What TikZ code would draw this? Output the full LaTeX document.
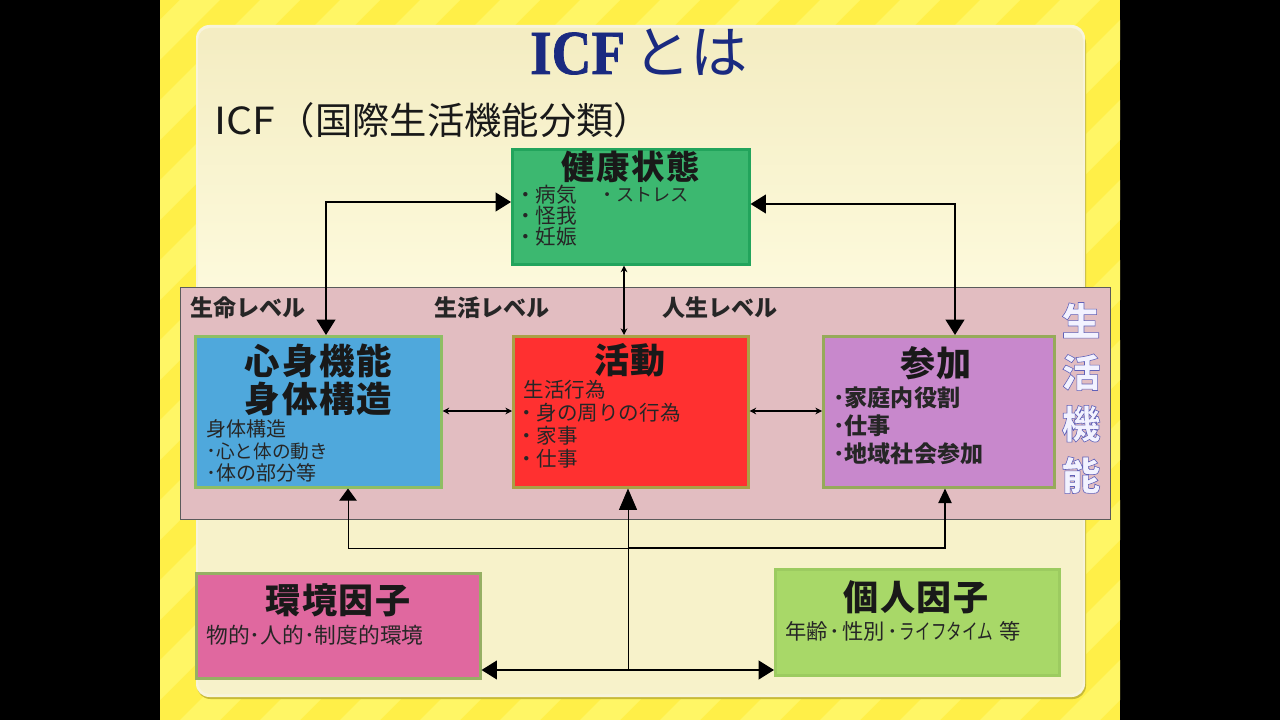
\documentclass[tikz,border=0pt]{standalone}
\usepackage{fontspec}
\usepackage{graphicx}
\usetikzlibrary{arrows.meta,calc,patterns.meta}
\setmainfont{Noto Sans CJK JP}
\newfontfamily\titlefont[BoldFeatures={FakeBold=1.2}]{Liberation Serif}
\newcommand{\fs}[1]{\fontsize{#1}{#1}\selectfont}
\newcommand{\fsl}[2]{\fontsize{#1}{#2}\selectfont}
\newcommand{\spread}{\addfontfeature{LetterSpace=5}}
\definecolor{stripeA}{HTML}{FFEF48}
\definecolor{stripeB}{HTML}{FFF665}
\definecolor{navy}{HTML}{1A2A80}
\definecolor{cardTop}{HTML}{F4EDC3}
\definecolor{cardMid}{HTML}{FDFADC}
\definecolor{cardBot}{HTML}{F7F2CA}
\definecolor{band}{HTML}{EDC4C9}
\definecolor{healthFill}{HTML}{3CB870}
\definecolor{healthEdge}{HTML}{22A45C}
\definecolor{blueFill}{HTML}{4FA8DC}
\definecolor{blueEdge}{HTML}{8EBE64}
\definecolor{redFill}{HTML}{FF3030}
\definecolor{redEdge}{HTML}{AAA046}
\definecolor{purpleFill}{HTML}{C888CC}
\definecolor{purpleEdge}{HTML}{96AA5A}
\definecolor{envFill}{HTML}{E0689F}
\definecolor{envEdge}{HTML}{96AF64}
\definecolor{indFill}{HTML}{A8D868}
\definecolor{indEdge}{HTML}{9CCB60}
\definecolor{vertFill}{HTML}{F2F2FF}
\tikzset{
  x=0.75pt,y=-0.75pt,
  boxnode/.style={draw=#1,line width=1.9pt,inner sep=0,anchor=north west},
  headtext/.style={inner sep=0,font=\bfseries\fs{26.3}\spread,text=black!90},
  listtext/.style={inner sep=0,anchor=north west,align=left,font=\fsl{15.5}{15.5},text=black!85},
  boldlist/.style={inner sep=0,anchor=north west,align=left,font=\bfseries\fsl{17.3}{20.8},text=black!85},
  leveltext/.style={inner sep=0,font=\bfseries\fs{17.3},text=black!85},
  bigarrow/.style={line width=1.4pt,{Triangle[length=11.5pt,width=14pt]}-{Triangle[length=11.5pt,width=14pt]}},
  smallarrow/.style={line width=0.8pt,{Stealth[length=5pt,width=5pt]}-{Stealth[length=5pt,width=5pt]}},
  branchline/.style={line width=0.75pt},
}
\begin{document}
\begin{tikzpicture}
\useasboundingbox (0,0) rectangle (1280,720);
\fill[black] (0,0) rectangle (1280,720);
\begin{scope}
  \clip (160,0) rectangle (1120,720);
  \fill[stripeA] (160,0) rectangle (1120,720);
  \foreach \s in {-60,20,...,1900} {
    \fill[stripeB] (\s,0) -- ({\s+40},0) -- ({\s+40-720},720) -- ({\s-720},720) -- cycle;
  }
\end{scope}
\fill[black!22!stripeA,rounded corners=10pt] (197,30) rectangle (1086,699);
\fill[white!40!cardTop,rounded corners=10pt] (196,25) rectangle (1085,697);
\fill[cardTop,rounded corners=9pt] (198,28) rectangle (1083,60);
\shade[top color=cardTop,bottom color=cardMid] (198,40) rectangle (1083,290);
\shade[top color=cardMid,bottom color=cardBot] (198,290) rectangle (1083,520);
\fill[cardBot,rounded corners=9pt] (198,510) rectangle (1083,694);

\node[inner sep=0,anchor=base,text=navy] (title) at (639,74)
  {\scalebox{.88}[1]{\titlefont\bfseries\fs{47}ICF}\hspace{6pt}\fs{43}とは};
\node[inner sep=0,anchor=base west,text=black!90] (subtitle) at (214,135) {\fs{28}\scalebox{1.1}[1]{ICF}\hspace{2pt}（国際生活機能分類）};

\fill[band,draw=black!65,line width=0.6pt] (180,287) rectangle (1110,519);
\fill[pattern={Dots[distance=1.5pt,radius=0.33pt]},pattern color=black!55] (180,287) rectangle (1110,519);

\node[boxnode=healthEdge,fill=healthFill,minimum width=177.75pt,minimum height=86.25pt] (health) at (511,148) {};
\node[boxnode=blueEdge,fill=blueFill,minimum width=184.5pt,minimum height=113.25pt] (blue) at (194,335) {};
\node[boxnode=redEdge,fill=redFill,minimum width=176.25pt,minimum height=113.25pt] (red) at (512,335) {};
\node[boxnode=purpleEdge,fill=purpleFill,minimum width=173.25pt,minimum height=113.25pt] (purple) at (822,335) {};
\node[boxnode=envEdge,fill=envFill,minimum width=213pt,minimum height=78.75pt] (env) at (195,572) {};
\node[boxnode=indEdge,fill=indFill,minimum width=213pt,minimum height=79.5pt] (ind) at (774,568) {};

\node[headtext,font=\bfseries\fs{25}\spread] (healthT) at (631,167) {健康状態};
\node[listtext] (healthL) at (515,185) {・病気\\・怪我\\・妊娠};
\node[listtext,font=\fs{13.6}] (healthS) at (598,187) {・ストレス};

\node[leveltext] (lvA) at (248,308) {生命レベル};
\node[leveltext] (lvB) at (492,308) {生活レベル};
\node[leveltext] (lvC) at (720,308) {人生レベル};

\node[headtext,align=center,font=\bfseries\fsl{26.6}{28.5}\spread] (blueT) at (318.5,380) {心身機能\\身体構造};
\node[listtext,font=\fsl{15}{16.5}] (blueL) at (206,419) {身体構造\\･{\fsl{14}{16.5}心と体の動き}\\･体の部分等};

\node[headtext] (redT) at (630,360) {活動};
\node[listtext,font=\fsl{15.4}{17.25}] (redL) at (516,380) {\hspace{5.5pt}生活行為\\・身の周りの行為\\・家事\\・仕事};

\node[headtext] (purpleT) at (936,363) {参加};
\node[boldlist] (purpleL) at (833,387) {･家庭内役割\\･仕事\\･地域社会参加};

\node[headtext] (envT) at (338,600) {環境因子};
\node[listtext,font=\fs{16.3}] (envL) at (206,625) {物的･人的･制度的環境};

\node[headtext] (indT) at (916,597) {個人因子};
\node[listtext,font=\fs{16}] (indL) at (785,621) {年齢\hspace{1.5pt}･\hspace{1.5pt}性別\hspace{1.5pt}･\hspace{1.5pt}\scalebox{.73}[1]{ライフタイム}\hspace{5pt}等};

\node[inner sep=0,align=center,text=vertFill,font=\bfseries\fsl{29}{38.6}] (vert) at (1081,398)
  {\special{pdf:code 2 Tr 0.45 w 0.38 0.38 0.72 RG}生\\活\\機\\能\special{pdf:code 0 Tr 0 G}};

\coordinate (xA) at (326,0);
\coordinate (xB) at (955,0);
\coordinate (xC) at (624,0);
\coordinate (xD) at (628,0);
\coordinate (xE) at (348,0);
\coordinate (xF) at (945,0);
\coordinate (yA) at (0,202);
\coordinate (yB) at (0,204);
\coordinate (yC) at (0,411);
\coordinate (yD) at (0,548);
\coordinate (yE) at (0,670);

\draw[bigarrow] (health.west |- yA) -| (blue.north -| xA);
\draw[bigarrow] (health.east |- yB) -| (purple.north -| xB);
\draw[smallarrow] (health.south -| xC) -- (red.north -| xC);
\draw[smallarrow] (blue.east |- yC) -- (red.west |- yC);
\draw[smallarrow] (red.east |- yC) -- (purple.west |- yC);
\draw[bigarrow] (env.east |- yE) -- (ind.west |- yE);
\coordinate (hub) at (xD |- yE);
\coordinate (mid) at (xD |- yD);
\draw[branchline,-{Triangle[length=16pt,width=13.5pt]}] (hub) -- (red.south -| xD);
\draw[branchline,-{Triangle[length=9pt,width=13pt]}] (mid) -| (blue.south -| xE);
\draw[line width=1.2pt,-{Triangle[length=11pt,width=10pt]}] (mid) -| (purple.south -| xF);
\end{tikzpicture}
\end{document}
